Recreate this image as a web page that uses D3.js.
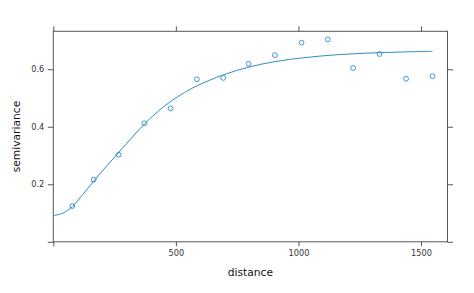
<!DOCTYPE html>
<html><head><meta charset="utf-8">
<script src="https://cdn.jsdelivr.net/npm/d3@7"></script>
<style>body{margin:0;background:#fff}svg{display:block}</style>
</head><body>
<svg id="c" width="474" height="293"></svg>
<script>
const distance = [77.5, 164.7, 266.6, 371, 478.6, 585.8, 693, 796.6, 903.8, 1012.6, 1119.9, 1223, 1330.6, 1439, 1546.7];
const gamma = [0.1245, 0.216, 0.303, 0.412, 0.464, 0.565, 0.570, 0.619, 0.649, 0.6925, 0.704, 0.6045, 0.653, 0.567, 0.5757];
const modelDist = [0, 40, 77, 120, 165, 215, 265, 318, 371, 425, 477, 535, 590, 692, 795, 900, 1020, 1150, 1280, 1420, 1547];
const modelGamma = [0.091, 0.100, 0.122, 0.164, 0.211, 0.261, 0.309, 0.360, 0.409, 0.452, 0.487, 0.519, 0.544, 0.580, 0.607, 0.626, 0.640, 0.650, 0.656, 0.660, 0.6625];
const xTicks = [0, 500, 1000, 1500];
const xTickLabels = ["", "500", "1000", "1500"];
const yTicks = [0, 0.2, 0.4, 0.6];
const yTickLabels = ["", "0.2", "0.4", "0.6"];

const L = 53.3, R = 447.5, T = 31.3, B = 241.8;
const x = d3.scaleLinear().domain([0, 1608]).range([L, R]);
const y = d3.scaleLinear().domain([0, 0.732]).range([B, T]);
const svg = d3.select("#c");
const axisCol = "#555", blue = "#2f8cc6";
const font = "DejaVu Sans, sans-serif";

function styleAxis(g, labels) {
  g.select(".domain").remove();
  g.selectAll(".tick line").attr("stroke", axisCol).attr("stroke-width", 1);
  g.selectAll(".tick text").attr("fill", "#333").attr("font-family", font).attr("font-size", 8.2)
    .text((d, i) => labels ? labels[i] : "");
}
svg.append("g").attr("transform", `translate(0,${B})`)
  .call(d3.axisBottom(x).tickValues(xTicks).tickSizeOuter(0).tickSize(4.5).tickPadding(4))
  .call(g => styleAxis(g, xTickLabels));
svg.append("g").attr("transform", `translate(0,${T})`)
  .call(d3.axisTop(x).tickValues(xTicks).tickSizeOuter(0).tickSize(5))
  .call(g => styleAxis(g, null));
svg.append("g").attr("transform", `translate(${L},0)`)
  .call(d3.axisLeft(y).tickValues(yTicks).tickSizeOuter(0).tickSize(5.5).tickPadding(3.5))
  .call(g => styleAxis(g, yTickLabels));
svg.append("g").attr("transform", `translate(${R},0)`)
  .call(d3.axisRight(y).tickValues(yTicks).tickSizeOuter(0).tickSize(5.5))
  .call(g => styleAxis(g, null));

svg.append("rect").attr("x", L).attr("y", T).attr("width", R - L).attr("height", B - T)
  .attr("fill", "none").attr("stroke", axisCol).attr("stroke-width", 1);

const line = d3.line().x((d, i) => x(modelDist[i])).y((d, i) => y(modelGamma[i])).curve(d3.curveCatmullRom.alpha(0.5));
svg.append("path").datum(modelDist).attr("d", line).attr("fill", "none")
  .attr("stroke", blue).attr("stroke-width", 1);

svg.append("g").selectAll("circle").data(distance).join("circle")
  .attr("cx", d => x(d)).attr("cy", (d, i) => y(gamma[i])).attr("r", 2.4)
  .attr("fill", "none").attr("stroke", blue).attr("stroke-width", 0.9);

svg.append("text").attr("x", (L + R) / 2).attr("y", 276).attr("text-anchor", "middle")
  .attr("font-family", font).attr("font-size", 10.7).attr("fill", "#111").text("distance");
svg.append("text").attr("transform", `translate(20,${(T + B) / 2}) rotate(-90)`).attr("text-anchor", "middle")
  .attr("font-family", font).attr("font-size", 10.7).attr("fill", "#111").text("semivariance");
</script>
</body></html>
